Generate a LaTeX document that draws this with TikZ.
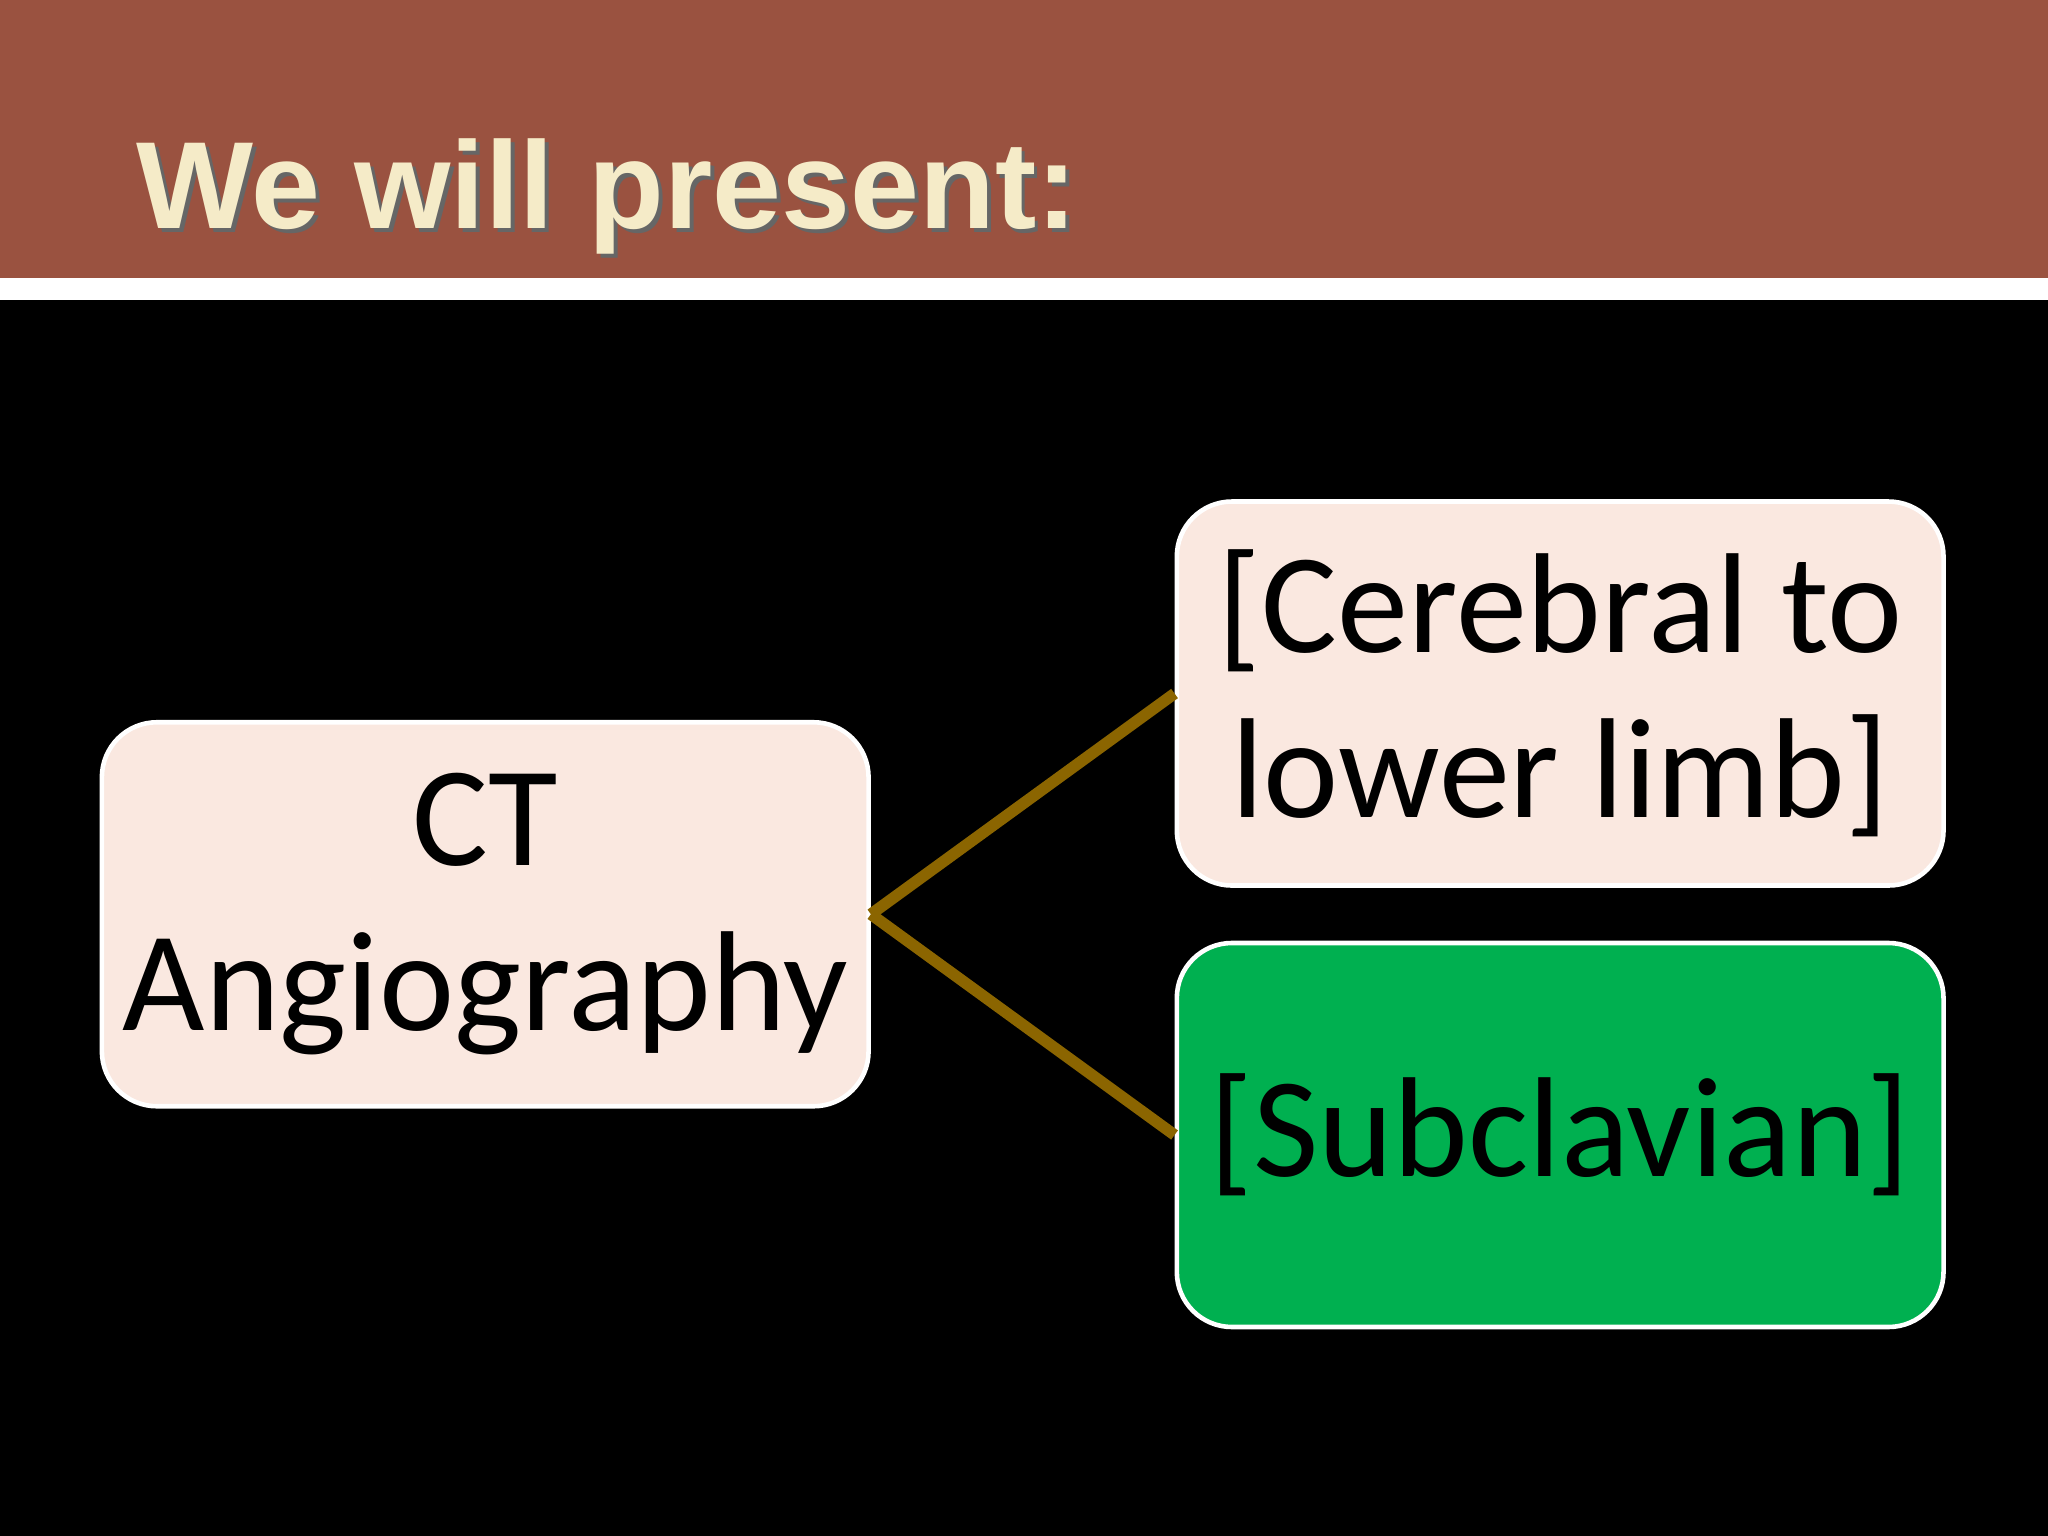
\documentclass[tikz,border=0pt]{standalone}
\usepackage{fontspec}
\setmainfont{Carlito}
\newfontfamily\titlefont{Liberation Sans}
\definecolor{bandbrown}{HTML}{9A5240}
\definecolor{titlecream}{HTML}{F5EBC8}
\definecolor{boxpink}{HTML}{FAE8E0}
\definecolor{boxgreen}{HTML}{00B050}
\definecolor{linkgold}{HTML}{8B6500}
\tikzset{
  itembox/.style={draw=white, line width=1pt, rounded corners=12pt, fill=boxpink,
    minimum width=5.87cm, minimum height=2.94cm, align=center,
    font=\fontsize{31}{36}\selectfont, text=black},
  link/.style={linkgold, line width=2.5pt}
}
\begin{document}
\begin{tikzpicture}
\useasboundingbox (0,0) rectangle (15.68,11.76);
\fill[black] (0,0) rectangle (15.68,11.76);

% Title band
\fill[bandbrown] (0,9.63) rectangle (15.68,11.76);
\fill[white] (0,9.46) rectangle (15.68,9.63);
\node[anchor=base west, text=black!60, font=\titlefont\bfseries\fontsize{27}{30}\selectfont] at (0.95,9.98) {We will present:};
\node (title) [anchor=base west, text=titlecream, font=\titlefont\bfseries\fontsize{27}{30}\selectfont] at (0.92,10.01) {We will present:};

% Boxes
\node (ct) [itembox] at (3.715,4.76) {CT\\Angiography};
\node (cerebral) [itembox] at (11.945,6.45) {[Cerebral to\\lower limb]};
\node (subclavian) [itembox, fill=boxgreen] at (11.945,3.07) {[Subclavian]};

% Links
\draw[link] (ct.east) -- (cerebral.west);
\draw[link] (ct.east) -- (subclavian.west);
\end{tikzpicture}
\end{document}
